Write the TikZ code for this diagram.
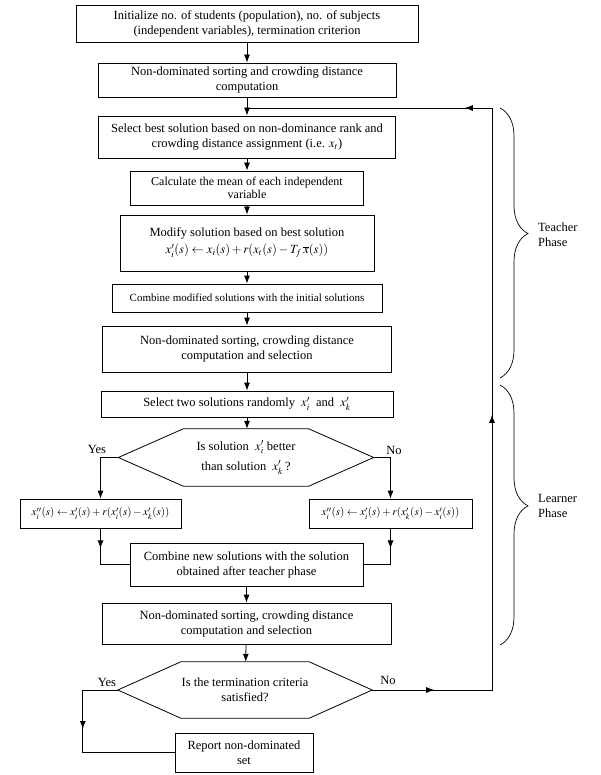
\documentclass[tikz,border=0pt]{standalone}
\usepackage{mathptmx}
\usepackage[no-math]{fontspec}
\setmainfont{Liberation Serif}
\usetikzlibrary{arrows.meta,decorations.markings,decorations.pathreplacing}
\begin{document}
\begin{tikzpicture}[x=1pt,y=-1pt,
  every node/.style={font=\fontsize{12.5}{15}\selectfont},
  box/.style={draw, line width=0.8pt, inner sep=0pt, align=center},
  dec/.style={inner sep=0pt, align=center},
  line/.style={line width=0.8pt},
  tip/.style={-{Latex[length=8pt,width=6pt]}},
  arrowat/.style={postaction=decorate, decoration={markings, mark=at position #1 with {\arrow{Latex[length=8pt,width=6pt]}}}},
  loopmarks/.style={postaction=decorate, decoration={markings,
      mark=at position 62pt with {\arrow{Latex[length=8pt,width=6pt]}},
      mark=at position 395pt with {\arrow{Latex[length=8pt,width=6pt]}},
      mark=at position 729pt with {\arrow{Latex[length=8pt,width=6pt]}}}},
  lbl/.style={inner sep=0pt},
  phasebrace/.style={line width=0.7pt, decorate, decoration={brace, amplitude=28pt, aspect=0.465}},
  small/.style={font=\fontsize{11}{13}\selectfont}
]
\useasboundingbox (0,0) rectangle (600,775);

% main column
\node[box, minimum width=342pt, minimum height=37pt] (b1) at (247,23.5)
  {Initialize no. of students (population), no. of subjects\\(independent variables), termination criterion};
\node[box, minimum width=298pt, minimum height=34pt] (b2) at (247,80)
  {Non-dominated sorting and crowding distance\\computation};
\node[box, minimum width=297pt, minimum height=42pt] (b3) at (247,137)
  {Select best solution based on non-dominance rank and\\crowding distance assignment (i.e. $x_t$)};
\node[box, minimum width=233pt, minimum height=34pt, font=\fontsize{12}{13}\selectfont] (b4) at (247,188)
  {Calculate the mean of each independent\\variable};
\node[box, minimum width=254pt, minimum height=56pt] (b5) at (247,243)
  {Modify solution based on best solution\\[2pt]$x_i'(s)\leftarrow x_i(s)+r(x_t(s)-T_f\,\overline{x}(s))$};
\node[box, minimum width=270pt, minimum height=28pt, font=\fontsize{11}{13}\selectfont] (b6) at (247,298)
  {Combine modified solutions with the initial solutions};
\node[box, minimum width=289pt, minimum height=46pt] (b7) at (247,349)
  {Non-dominated sorting, crowding distance\\computation and selection};
\node[box, minimum width=292pt, minimum height=26pt] (b8) at (247,404)
  {Select two solutions randomly\ \ $x_i'$\ \ and\ \ $x_k'$};

% first decision
\node[dec, minimum width=255pt, minimum height=57pt] (d1) at (246,457.5)
  {Is solution\ \ $x_i'$ better\\[5pt]than solution\ \ $x_k'$\,?};
\draw[line] (d1.west) -- ([xshift=65pt]d1.north west) -- ([xshift=-65pt]d1.north east)
  -- (d1.east) -- ([xshift=-65pt]d1.south east) -- ([xshift=65pt]d1.south west) -- cycle;

\node[box, small, minimum width=161pt, minimum height=29pt] (lb) at (100.5,513.5)
  {$x_i''(s)\leftarrow x_i'(s)+r(x_i'(s)-x_k'(s))$};
\node[box, small, minimum width=163pt, minimum height=29pt] (rb) at (390.5,513.5)
  {$x_i''(s)\leftarrow x_i'(s)+r(x_k'(s)-x_i'(s))$};

\node[box, minimum width=233pt, minimum height=43pt] (b9) at (246.5,564.5)
  {Combine new solutions with the solution\\obtained after teacher phase};
\node[box, minimum width=289pt, minimum height=41pt] (b10) at (246.5,623.5)
  {Non-dominated sorting, crowding distance\\computation and selection};

% second decision
\node[dec, minimum width=254pt, minimum height=56pt] (d2) at (245,690)
  {Is the termination criteria\\satisfied?};
\draw[line] (d2.west) -- ([xshift=63pt]d2.north west) -- ([xshift=-63pt]d2.north east)
  -- (d2.east) -- ([xshift=-63pt]d2.south east) -- ([xshift=63pt]d2.south west) -- cycle;

\node[box, minimum width=138pt, minimum height=39pt] (b11) at (244,752.5)
  {Report non-dominated\\set};

% labels
\node[lbl] (yes1) at (97,449) {Yes};
\node[lbl] (no1) at (394,450) {No};
\node[lbl] (yes2) at (107,682) {Yes};
\node[lbl] (no2) at (388,680) {No};
\node[lbl, align=left, anchor=west] (tp) at (538,234.5) {Teacher\\Phase};
\node[lbl, align=left, anchor=west] (lp) at (538,505.5) {Learner\\Phase};

% connectors
\coordinate (J) at (247,108);
\coordinate (R) at (492,108);
\draw[line,tip] (b1) -- (b2);
\draw[line,tip] (b2) -- (b3);
\draw[line,tip] (b3) -- (b4);
\draw[line,tip] (b4) -- (b5);
\draw[line,tip] (b5) -- (b6);
\draw[line,tip] (b6) -- (b7);
\draw[line,tip] (b7) -- (b8);
\draw[line,tip] (b8.south) -- (b8.south |- d1.north);
\draw[line,tip] (d1.west) -| (lb.north);
\draw[line,tip] (d1.east) -| (rb.north);
\draw[line,arrowat=20pt] (lb.south) |- (b9.west);
\draw[line,arrowat=20pt] (rb.south) |- (b9.east);
\draw[line,tip] (b9) -- (b10);
\draw[line,tip] (b10) -- (d2);
\draw[line,arrowat=74pt] (d2.west) -- ++(-35pt,0) |- (b11.west);
\draw[line,loopmarks] (d2.east) -- (d2.east -| R) -- (R) -- (J);

% braces
\coordinate (t1) at (500,108);
\coordinate (t2) at (500,378);
\coordinate (l1) at (500,385);
\coordinate (l2) at (500,645);
\draw[phasebrace] (t1) -- (t2);
\draw[phasebrace] (l1) -- (l2);
\end{tikzpicture}
\end{document}
